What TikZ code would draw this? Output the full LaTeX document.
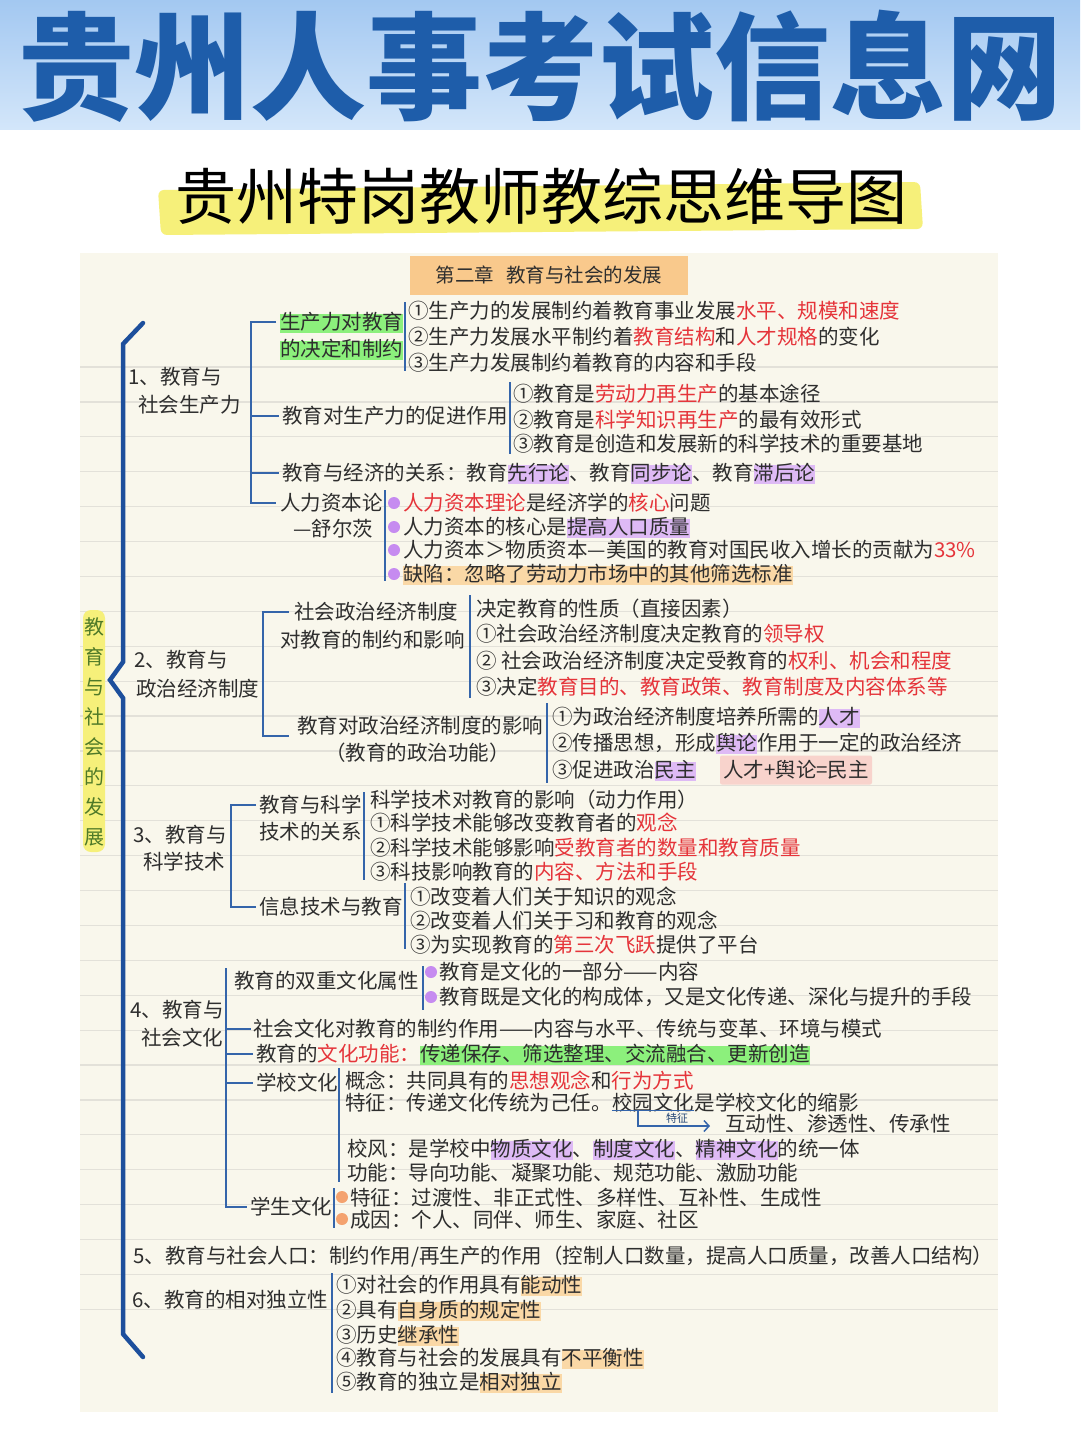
\documentclass[tikz,border=0pt]{standalone}
\usepackage{fontspec}
\setmainfont{Noto Sans CJK SC}
\usetikzlibrary{arrows.meta}
\definecolor{ink}{HTML}{2E2E2E}
\definecolor{redc}{HTML}{E5343A}
\definecolor{hb1}{HTML}{A3C8F1}
\definecolor{hb2}{HTML}{D3E6FA}
\definecolor{titleblue}{HTML}{1E5DAA}
\definecolor{hly}{HTML}{F6F07A}
\definecolor{paper}{HTML}{F9F7EC}
\definecolor{rulec}{HTML}{E3E1D9}
\definecolor{chapc}{HTML}{F9C98C}
\definecolor{bracec}{HTML}{1D4F9C}
\definecolor{brc}{HTML}{3565AA}
\definecolor{grn}{HTML}{8CF07C}
\definecolor{pur}{HTML}{DEBAF5}
\definecolor{org}{HTML}{FAD8A6}
\definecolor{purdot}{HTML}{C68BF0}
\definecolor{orgdot}{HTML}{F4A26F}
\definecolor{pinkc}{HTML}{F8D3CC}
\definecolor{vlabc}{HTML}{4F7A28}
\newcommand\R[1]{\textcolor{redc}{#1}}
\newcommand\HL[2]{\setbox0=\hbox{#2}\rlap{\textcolor{#1}{\rule[-3pt]{\wd0}{19pt}}}\box0}
\begin{document}
\begin{tikzpicture}[x=1pt,y=-1pt,
  txt/.style={anchor=west,inner sep=0pt,text height=18pt,text depth=2.5pt,font=\fontsize{20.5}{24}\selectfont,text=ink},
  br/.style={draw=brc,line width=2pt},
  sepl/.style={draw=brc,line width=1.5pt},
  bracev/.style={draw=bracec,line width=4.5pt,line cap=round,line join=miter},
  titletxt/.style={inner sep=0pt,font=\fontsize{116}{120}\selectfont\bfseries,text=titleblue},
  subtxt/.style={inner sep=0pt,font=\fontsize{61}{64}\selectfont,text=black},
  chap/.style={fill=chapc,inner sep=0pt,minimum width=278pt,minimum height=39pt,font=\fontsize{19.5}{22}\selectfont,text=ink},
  pbox/.style={fill=pinkc,rounded corners=2pt,inner sep=0pt,minimum width=152pt,minimum height=29pt,font=\fontsize{20.5}{24}\selectfont,text=ink},
  vlab/.style={inner sep=0pt,font=\fontsize{20}{22}\selectfont,text=vlabc},
  smalllab/.style={inner sep=0pt,font=\fontsize{11}{12}\selectfont,text=brc!70!black}]
\useasboundingbox (0,0) rectangle (1080,1440);
\fill[white] (0,0) rectangle (1080,1440);
% header
\shade[top color=hb1,bottom color=hb2] (0,0) rectangle (1080,129);
\node[titletxt] (title) at (540,66) {贵州人事考试信息网};
\fill[hly,rounded corners=6pt] (158,190) -- (920,182) -- (923,229) -- (161,235) -- cycle;
\node[subtxt] (sub) at (541,196) {贵州特岗教师教综思维导图};
% paper
\fill[paper] (80,253) rectangle (998,1412);
\foreach \k in {0,...,27} \draw[rulec,line width=1.2pt] (80,{367+34.9*\k}) -- (998,{367+34.9*\k});
\node[chap] (chap) at (549,275) {第二章\hspace{12pt}教育与社会的发展};
% left vertical label
\fill[hly,rounded corners=8pt] (83,610) rectangle (105,852);
\foreach \c [count=\i] in {教,育,与,社,会,的,发,展}
  \node[vlab] (v\i) at (94,{597+30*\i}) {\c};
% main brace
\coordinate (btop) at (143,323);
\coordinate (bbot) at (143,1357);
\draw[bracev] (btop) -- (123,344) -- (123,662) -- (110,680) -- (123,698) -- (123,1334) -- (bbot);

% ---------- section 1 ----------
\node[txt] (s1a) at (128,377) {1、教育与};
\node[txt] (s1b) at (138,405) {社会生产力};
\node[txt] (a1) at (280,322) {\HL{grn}{生产力对教育}};
\node[txt] (a2) at (280,349) {\HL{grn}{的决定和制约}};
\node[txt] (a11) at (408,311) {①生产力的发展制约着教育事业发展\R{水平、规模和速度}};
\node[txt] (a12) at (408,337) {②生产力发展水平制约着\R{教育结构}和\R{人才规格}的变化};
\node[txt] (a13) at (408,363) {③生产力发展制约着教育的内容和手段};
\node[txt] (b1) at (282,416) {教育对生产力的促进作用};
\node[txt] (b11) at (513,394) {①教育是\R{劳动力再生产}的基本途径};
\node[txt] (b12) at (513,420) {②教育是\R{科学知识再生产}的最有效形式};
\node[txt] (b13) at (513,444) {③教育是创造和发展新的科学技术的重要基地};
\node[txt] (c1) at (282,473) {教育与经济的关系：教育\HL{pur}{先行论}、教育\HL{pur}{同步论}、教育\HL{pur}{滞后论}};
\node[txt] (d1) at (280,503) {人力资本论};
\node[txt] (d2) at (293,529) {—舒尔茨};
\node[txt] (d11) at (403,503) {\R{人力资本理论}是经济学的\R{核心}问题};
\node[txt] (d12) at (403,527) {人力资本的核心是\HL{pur}{提高人口质量}};
\node[txt] (d13) at (403,550) {人力资本＞物质资本—美国的教育对国民收入增长的贡献为\R{33\%}};
\node[txt] (d14) at (403,574) {\HL{org}{缺陷：忽略了劳动力市场中的其他筛选标准}};
\foreach \yy in {503,527,550,574} \fill[purdot] (394,\yy) circle (6pt);
\draw[br] ([xshift=-4pt]a1.west) -- (251,322) -- (251,503) -- ([xshift=-4pt]d1.west);
\draw[br] (251,416) -- ([xshift=-3pt]b1.west);
\draw[br] (251,473) -- ([xshift=-3pt]c1.west);
\draw[sepl] (405,302) -- (405,371);
\draw[sepl] (510,382) -- (510,454);
\draw[sepl] (385,490) -- (385,581);

% ---------- section 2 ----------
\node[txt] (s2a) at (134,660) {2、教育与};
\node[txt] (s2b) at (136,689) {政治经济制度};
\node[txt] (e1) at (294,612) {社会政治经济制度};
\node[txt] (e2) at (280,640) {对教育的制约和影响};
\node[txt] (e11) at (476,609) {决定教育的性质（直接因素）};
\node[txt] (e12) at (476,634) {①社会政治经济制度决定教育的\R{领导权}};
\node[txt] (e13) at (476,661) {② 社会政治经济制度决定受教育的\R{权利、机会和程度}};
\node[txt] (e14) at (476,687) {③决定\R{教育目的、教育政策、教育制度及内容体系等}};
\node[txt] (f1) at (297,726) {教育对政治经济制度的影响};
\node[txt] (f2) at (325,753) {（教育的政治功能）};
\node[txt] (f11) at (552,717) {①为政治经济制度培养所需的\HL{pur}{人才}};
\node[txt] (f12) at (552,743) {②传播思想，形成\HL{pur}{舆论}作用于一定的政治经济};
\node[txt] (f13) at (552,770) {③促进政治\HL{pur}{民主}};
\node[pbox] (f14) at (796,770) {人才+舆论=民主};
\draw[br] ([xshift=-5pt]e1.west) -- (263,612) -- (263,736) -- (289,736);
\draw[sepl] (470,595) -- (470,698);
\draw[sepl] (547,703) -- (547,783);

% ---------- section 3 ----------
\node[txt] (s3a) at (133,835) {3、教育与};
\node[txt] (s3b) at (143,862) {科学技术};
\node[txt] (g1) at (259,805) {教育与科学};
\node[txt] (g2) at (259,832) {技术的关系};
\node[txt] (g11) at (370,800) {科学技术对教育的影响（动力作用）};
\node[txt] (g12) at (370,823) {①科学技术能够改变教育者的\R{观念}};
\node[txt] (g13) at (370,848) {②科学技术能够影响\R{受教育者的数量和教育质量}};
\node[txt] (g14) at (370,872) {③科技影响教育的\R{内容、方法和手段}};
\node[txt] (h1) at (259,907) {信息技术与教育};
\node[txt] (h11) at (410,897) {①改变着人们关于知识的观念};
\node[txt] (h12) at (410,921) {②改变着人们关于习和教育的观念};
\node[txt] (h13) at (410,945) {③为实现教育的\R{第三次飞跃}提供了平台};
\draw[br] ([xshift=-3pt]g1.west) -- (231,805) -- (231,907) -- ([xshift=-3pt]h1.west);
\draw[sepl] (364,792) -- (364,880);
\draw[sepl] (405,883) -- (405,949);

% ---------- section 4 ----------
\node[txt] (s4a) at (130,1010) {4、教育与};
\node[txt] (s4b) at (141,1038) {社会文化};
\node[txt] (i1) at (234,981) {教育的双重文化属性};
\node[txt] (i11) at (439,972) {教育是文化的一部分——内容};
\node[txt] (i12) at (439,997) {教育既是文化的构成体，又是文化传递、深化与提升的手段};
\foreach \yy in {972,997} \fill[purdot] (431,\yy) circle (6pt);
\node[txt] (j1) at (253,1029) {社会文化对教育的制约作用——内容与水平、传统与变革、环境与模式};
\node[txt] (k1) at (256,1054) {教育的\R{文化功能：}\HL{grn}{传递保存、筛选整理、交流融合、更新创造}};
\node[txt] (l1) at (256,1083) {学校文化};
\node[txt] (l11) at (345,1081) {概念：共同具有的\R{思想观念}和\R{行为方式}};
\node[txt] (l12) at (345,1103) {特征：传递文化传统为己任。};
\node[txt,anchor=west] (l12b) at (l12.east) {校园文化};
\node[txt,anchor=west] (l12c) at (l12b.east) {是学校文化的缩影};
\node[txt] (l13) at (725,1124) {互动性、渗透性、传承性};
\node[smalllab] (l13lab) at (677,1118) {特征};
\node[txt] (l14) at (347,1149) {校风：是学校中\HL{pur}{物质文化}、\HL{pur}{制度文化}、\HL{pur}{精神文化}的统一体};
\node[txt] (l15) at (347,1173) {功能：导向功能、凝聚功能、规范功能、激励功能};
\node[txt] (m1) at (250,1207) {学生文化};
\node[txt] (m11) at (350,1198) {特征：过渡性、非正式性、多样性、互补性、生成性};
\node[txt] (m12) at (350,1220) {成因：个人、同伴、师生、家庭、社区};
\foreach \yy in {1197,1219} \fill[orgdot] (342,\yy) circle (6pt);
\draw[br] (226,968) -- (226,1207) -- ([xshift=-3pt]m1.west);
\draw[br] (226,1029) -- ([xshift=-2pt]j1.west);
\draw[br] (226,1054) -- ([xshift=-3pt]k1.west);
\draw[br] (226,1083) -- ([xshift=-3pt]l1.west);
\draw[sepl] (423,966) -- (423,1010);
\draw[sepl] (339,1068) -- (339,1182);
\draw[sepl] (334,1188) -- (334,1228);
\draw[brc,line width=1.5pt] ([yshift=3pt]l12b.south west) -- ([yshift=3pt]l12b.south east);
\coordinate (ua) at ([xshift=26pt,yshift=3pt]l12b.south west);
\draw[brc,line width=1.5pt,-{Straight Barb[length=5pt,width=11pt]}] (ua) |- ([xshift=-15pt,yshift=-2pt]l13.west);

% ---------- section 5 ----------
\node[txt] (n1) at (133,1256) {5、教育与社会人口：制约作用/再生产的作用（控制人口数量，提高人口质量，改善人口结构）};

% ---------- section 6 ----------
\node[txt] (o1) at (132,1300) {6、教育的相对独立性};
\node[txt] (o11) at (336,1285) {①对社会的作用具有\HL{org}{能动性}};
\node[txt] (o12) at (336,1310) {②具有\HL{org}{自身质的规定性}};
\node[txt] (o13) at (336,1335) {③历史\HL{org}{继承性}};
\node[txt] (o14) at (336,1358) {④教育与社会的发展具有\HL{org}{不平衡性}};
\node[txt] (o15) at (336,1382) {⑤教育的独立是\HL{org}{相对独立}};
\draw[sepl] (332,1273) -- (332,1393);
\end{tikzpicture}
\end{document}
